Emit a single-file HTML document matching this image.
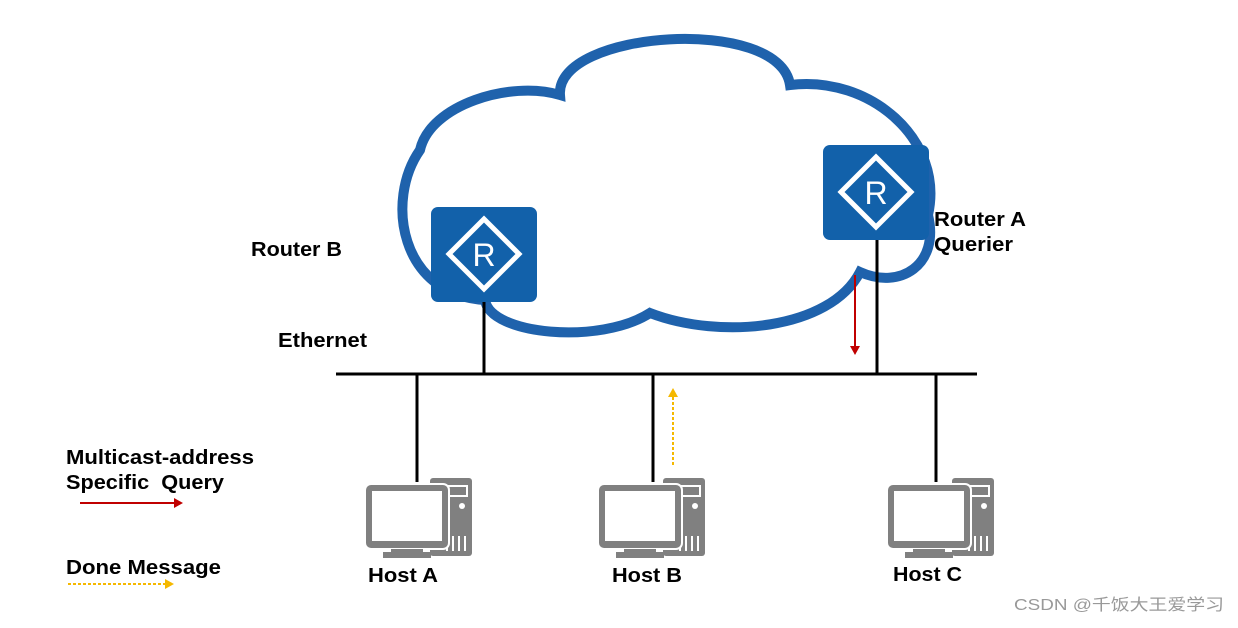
<!DOCTYPE html>
<html><head><style>
body{margin:0;background:#fff;}
svg text{font-family:"Liberation Sans",Arial,sans-serif;font-weight:bold;}
</style></head><body>
<svg width="1238" height="623" viewBox="0 0 1238 623" xmlns="http://www.w3.org/2000/svg">
<defs>
<g id="host">
  <rect x="65" y="0" width="42" height="78" rx="3" fill="#808080"/>
  <rect x="70" y="8" width="32" height="10" fill="none" stroke="#fff" stroke-width="2"/>
  <circle cx="97" cy="28" r="3" fill="#fff"/>
  <g stroke="#fff" stroke-width="2"><line x1="82" y1="58" x2="82" y2="73"/><line x1="88" y1="58" x2="88" y2="73"/><line x1="94" y1="58" x2="94" y2="73"/><line x1="100" y1="58" x2="100" y2="73"/></g>
  <rect x="0" y="6" width="84" height="65" rx="6" fill="#808080" stroke="#fff" stroke-width="2"/>
  <rect x="7" y="13" width="70" height="50" fill="#fff"/>
  <rect x="26" y="71" width="32" height="4" fill="#808080"/>
  <rect x="18" y="74" width="48" height="6" fill="#808080"/>
</g>
<g id="router">
  <rect x="0" y="0" width="106" height="95" rx="7" fill="#1261aa"/>
  <polygon points="53,12 88,47 53,82 18,47" fill="none" stroke="#fff" stroke-width="5"/>
  <text x="53" y="59" text-anchor="middle" font-size="32" fill="#fff" style="font-weight:normal">R</text>
</g>
</defs>
<path d="M560,95 C555,30 780,15 790,85 C870,75 945,140 928,215 C940,265 900,290 860,272 C830,330 720,340 650,313 C600,345 490,335 485,300 C400,295 385,200 420,150 C430,105 510,80 560,95 Z" fill="none" stroke="#1f62ac" stroke-width="10"/>
<use href="#router" x="431" y="207"/>
<use href="#router" x="823" y="145"/>
<g stroke="#000" stroke-width="3">
<line x1="484" y1="302" x2="484" y2="374"/>
<line x1="877" y1="240" x2="877" y2="374"/>
<line x1="336" y1="374" x2="977" y2="374"/>
<line x1="417" y1="374" x2="417" y2="482"/>
<line x1="653" y1="374" x2="653" y2="482"/>
<line x1="936" y1="374" x2="936" y2="482"/>
</g>
<line x1="855" y1="275" x2="855" y2="348" stroke="#c00000" stroke-width="2"/>
<polygon points="850,346 860,346 855,355" fill="#c00000"/>
<line x1="673" y1="465" x2="673" y2="396" stroke="#f5b800" stroke-width="2" stroke-dasharray="3,2"/>
<polygon points="668,397 678,397 673,388" fill="#f5b800"/>
<use href="#host" x="365" y="478"/>
<use href="#host" x="598" y="478"/>
<use href="#host" x="887" y="478"/>
<g font-size="20" fill="#000">
<text x="251" y="256" textLength="91" lengthAdjust="spacingAndGlyphs">Router B</text>
<text x="934" y="226" textLength="92" lengthAdjust="spacingAndGlyphs">Router A</text>
<text x="934" y="251" textLength="79" lengthAdjust="spacingAndGlyphs">Querier</text>
<text x="278" y="347" textLength="89" lengthAdjust="spacingAndGlyphs">Ethernet</text>
<text x="368" y="582" textLength="70" lengthAdjust="spacingAndGlyphs">Host A</text>
<text x="612" y="582" textLength="70" lengthAdjust="spacingAndGlyphs">Host B</text>
<text x="893" y="581" textLength="69" lengthAdjust="spacingAndGlyphs">Host C</text>
<text x="66" y="464" textLength="188" lengthAdjust="spacingAndGlyphs">Multicast-address</text>
<text x="66" y="489" textLength="158" lengthAdjust="spacingAndGlyphs">Specific&#160; Query</text>
<text x="66" y="574" textLength="155" lengthAdjust="spacingAndGlyphs">Done Message</text>
</g>
<line x1="80" y1="503" x2="176" y2="503" stroke="#c00000" stroke-width="2"/>
<polygon points="174,498 183,503 174,508" fill="#c00000"/>
<line x1="68" y1="584" x2="166" y2="584" stroke="#f5b800" stroke-width="2" stroke-dasharray="3,2"/>
<polygon points="165,579 174,584 165,589" fill="#f5b800"/>
<text x="1014" y="610" font-size="16" fill="#999" textLength="210" lengthAdjust="spacingAndGlyphs" style="font-weight:normal;font-family:'Liberation Sans','Noto Sans CJK SC',sans-serif">CSDN @千饭大王爱学习</text>
</svg>
</body></html>
